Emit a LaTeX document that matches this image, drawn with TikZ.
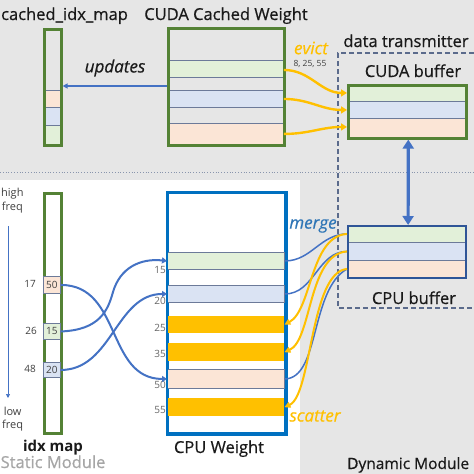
\documentclass[tikz,border=0pt]{standalone}
\usepackage{fontspec}
\setmainfont{Open Sans}
\newfontfamily\medfont{Open Sans}[FakeBold=0.6]
\usetikzlibrary{arrows.meta}
\definecolor{bggray}{HTML}{E6E6E6}
\definecolor{gborder}{HTML}{548235}
\definecolor{gfill}{HTML}{E2F0D9}
\definecolor{bfill}{HTML}{DAE3F3}
\definecolor{ofill}{HTML}{FBE5D6}
\definecolor{sepc}{HTML}{6C7A99}
\definecolor{arrblue}{HTML}{4472C4}
\definecolor{yel}{HTML}{FFC000}
\definecolor{cpwblue}{HTML}{0070C0}
\definecolor{cpbblue}{HTML}{2F5597}
\definecolor{dashc}{HTML}{5B6B8C}
\definecolor{mergec}{HTML}{2E75B6}
\definecolor{txt}{HTML}{1A1A1A}
\definecolor{smalltxt}{HTML}{404040}
\tikzset{
  box/.style={draw, line width=2.6pt, inner sep=0pt, fill=none, anchor=north west},
  stripe/.style={draw=sepc, line width=0.9pt, inner sep=0pt, anchor=north west},
  ystripe/.style={fill=yel, inner sep=0pt, anchor=north west},
  title/.style={font=\medfont\fontsize{16.5}{18}\selectfont, text=txt, inner sep=0pt},
  itl/.style={font=\medfont\fontsize{17}{19}\selectfont\itshape, inner sep=0pt},
  small/.style={font=\fontsize{10}{12}\selectfont, text=smalltxt, inner sep=0pt},
  evictarr/.style={draw=yel, line width=2.4pt, -{Triangle[length=6pt,width=7pt]}},
  idxarr/.style={draw=arrblue, line width=2pt, -{Triangle[length=5pt,width=6pt]}},
  mergeline/.style={draw=arrblue, line width=1.5pt},
  scatarr/.style={draw=yel, line width=2pt, -{Triangle[length=6pt,width=6pt]}},
}
\begin{document}
\begin{tikzpicture}[x=1pt,y=-1pt]
\clip (0,0) rectangle (474,474);
\useasboundingbox (0,0) rectangle (474,474);
% backgrounds
\fill[bggray] (0,0) rectangle (474,474);
\fill[white] (0,180) rectangle (300,474);
\draw[sepc!80, line width=0.8pt, dotted] (0,172) -- (474,172);
\draw[dashc, line width=1.2pt, dash pattern=on 5pt off 3pt] (490,53) -- (338,53) -- (338,308) -- (490,308);

% ---------- cached_idx_map ----------
\node[stripe, fill=ofill, minimum width=17pt, minimum height=17pt] (cm1) at (43,90) {};
\node[stripe, fill=bfill, minimum width=17pt, minimum height=18pt] (cm2) at (43,107) {};
\node[stripe, fill=gfill, minimum width=17pt, minimum height=19pt] (cm3) at (43,125) {};
\node[box, draw=gborder, minimum width=17pt, minimum height=116pt] (cim) at (43,28) {};
\node[title, anchor=base west] (cimt) at (1,20) {cached\_idx\_map};

% ---------- CUDA Cached Weight ----------
\node[stripe, fill=gfill, minimum width=116pt, minimum height=17pt] (cw1) at (167,60) {};
\node[stripe, fill=bfill, minimum width=116pt, minimum height=17pt] (cw2) at (167,90) {};
\node[stripe, fill=ofill, minimum width=116pt, minimum height=21pt] (cw3) at (167,123) {};
\node[box, draw=gborder, minimum width=116pt, minimum height=117pt] (ccw) at (167,27) {};
\node[title, anchor=base] (ccwt) at (226,20) {CUDA Cached Weight};
\coordinate (updsrc) at (167,86);
\draw[draw=arrblue, line width=1.6pt, -{Triangle[length=5pt,width=5pt]}] (updsrc) -- (cim.east |- updsrc);
\node[itl, text=txt] (updt) at (115,68) {updates};

% ---------- data transmitter ----------
\node[title, anchor=base] (dtt) at (406,47) {data transmitter};
\node[title, anchor=base] (cbt) at (413,77) {CUDA buffer};
\node[stripe, fill=gfill, minimum width=118pt, minimum height=17pt] (cb1) at (347,84) {};
\node[stripe, fill=bfill, minimum width=118pt, minimum height=17pt] (cb2) at (347,101) {};
\node[stripe, fill=ofill, minimum width=118pt, minimum height=19pt] (cb3) at (347,118) {};
\node[box, draw=gborder, minimum width=118pt, minimum height=53pt] (cb) at (347,84) {};

\node[stripe, fill=gfill, minimum width=118pt, minimum height=17pt] (pb1) at (347,225) {};
\node[stripe, fill=bfill, minimum width=118pt, minimum height=18pt] (pb2) at (347,242) {};
\node[stripe, fill=ofill, minimum width=118pt, minimum height=17pt] (pb3) at (347,260) {};
\node[box, draw=cpbblue, line width=2.2pt, minimum width=118pt, minimum height=52pt] (pb) at (347,225) {};
\node[title, anchor=base] (pbt) at (414,304) {CPU buffer};

\draw[draw=arrblue, line width=3.2pt, {Triangle[length=9pt,width=11pt]}-{Triangle[length=9pt,width=11pt]}] ([xshift=1pt]cb.south) -- ([xshift=1pt]pb.north);

% evict
\draw[evictarr] ([yshift=-1pt]cw1.east) to[out=0,in=180] (cb1.west);
\draw[evictarr] ([yshift=0pt]cw2.east) to[out=0,in=180] (cb2.west);
\draw[evictarr] ([yshift=0pt]cw3.east) to[out=0,in=180] ([yshift=1pt]cb3.west);
\node[itl, text=yel] (evt) at (311,48) {evict};
\node[small, font=\fontsize{8.5}{10}\selectfont] (evn) at (310,64) {8, 25, 55};

% ---------- idx map ----------
\node[box, draw=gborder, fill=white, minimum width=17pt, minimum height=240pt] (im) at (43,192) {};
\node[stripe, fill=ofill, minimum width=17pt, minimum height=17pt, small] (c50) at (43,276) {50};
\node[stripe, fill=gfill, minimum width=17pt, minimum height=16pt, small] (c15) at (43,323) {15};
\node[stripe, fill=bfill, minimum width=17pt, minimum height=15pt, small] (c20) at (43,362) {20};
\node[small] (l17) at (30,284) {17};
\node[small] (l26) at (31,331) {26};
\node[small] (l48) at (30,369) {48};
\node[title, font=\fontsize{15}{17}\selectfont\bfseries, anchor=base] (imt) at (53,451) {idx map};
\node[title, text=black!35, anchor=base west] (smt) at (0.5,468) {Static Module};

\node[small, align=center, font=\fontsize{11}{14}\selectfont, anchor=north west] (hf) at (1,188) {high\\freq};
\node[small, align=center, font=\fontsize{11}{13}\selectfont, anchor=south west] (lf) at (2,431) {low\\freq};
\draw[arrblue, line width=0.7pt, -{Triangle[length=4pt,width=4pt]}] (8,226) -- (8,398);

% ---------- CPU Weight ----------
\node[box, draw=cpwblue, line width=2.4pt, fill=white, minimum width=117pt, minimum height=240pt] (cpw) at (167,192) {};
\node[stripe, fill=gfill, minimum width=117pt, minimum height=17pt] (r15) at (167,252) {};
\node[stripe, fill=bfill, minimum width=117pt, minimum height=17pt] (r20) at (167,285) {};
\node[ystripe, minimum width=117pt, minimum height=17pt] (r25) at (167,316) {};
\node[ystripe, minimum width=117pt, minimum height=18pt] (r35) at (167,343) {};
\node[stripe, fill=ofill, minimum width=117pt, minimum height=19pt] (r50) at (167,369) {};
\node[ystripe, minimum width=117pt, minimum height=18pt] (r55) at (167,398) {};
\draw[cpwblue, line width=2.4pt] (cpw.north west) rectangle (cpw.south east);
\node[small, text=black!60] (n15) at (160,270) {15};
\node[small, text=black!60] (n20) at (160,301) {20};
\node[small, text=black!60] (n25) at (160,328) {25};
\node[small, text=black!60] (n35) at (160,354) {35};
\node[small, text=black!60] (n50) at (160,385) {50};
\node[small, text=black!60] (n55) at (160,410) {55};
\node[title, anchor=base] (cpwt) at (219,453) {CPU Weight};

% idx -> CPU weight
\draw[idxarr] (c50.east) to[out=0,in=180,looseness=1.1] (r50.west);
\draw[idxarr] (c15.east) .. controls (100,330) and (108,310) .. (113,292) .. controls (120,268) and (140,258) .. (r15.west);
\draw[idxarr] (c20.east) to[out=0,in=180,looseness=1.0] (r20.west);

% merge
\draw[mergeline] (r15.east) to[out=0,in=180] (pb1.west);
\draw[mergeline] (r20.east) to[out=0,in=180] (pb2.west);
\draw[mergeline] (r50.east) .. controls (320,378) and (310,290) .. (pb3.west);
\node[itl, text=mergec] (mgt) at (313,226) {merge};

% scatter
\draw[scatarr] (pb1.west) .. controls (310,236) and (312,310) .. (r25.east);
\draw[scatarr] (pb2.west) .. controls (308,254) and (312,340) .. (r35.east);
\draw[scatarr] (pb3.west) .. controls (310,272) and (312,395) .. (r55.east);
\node[itl, text=yel] (sct) at (315,416) {scatter};

\node[title, font=\medfont\fontsize{15.5}{18}\selectfont, anchor=base west] (dmt) at (347,469) {Dynamic Module};
\end{tikzpicture}
\end{document}
